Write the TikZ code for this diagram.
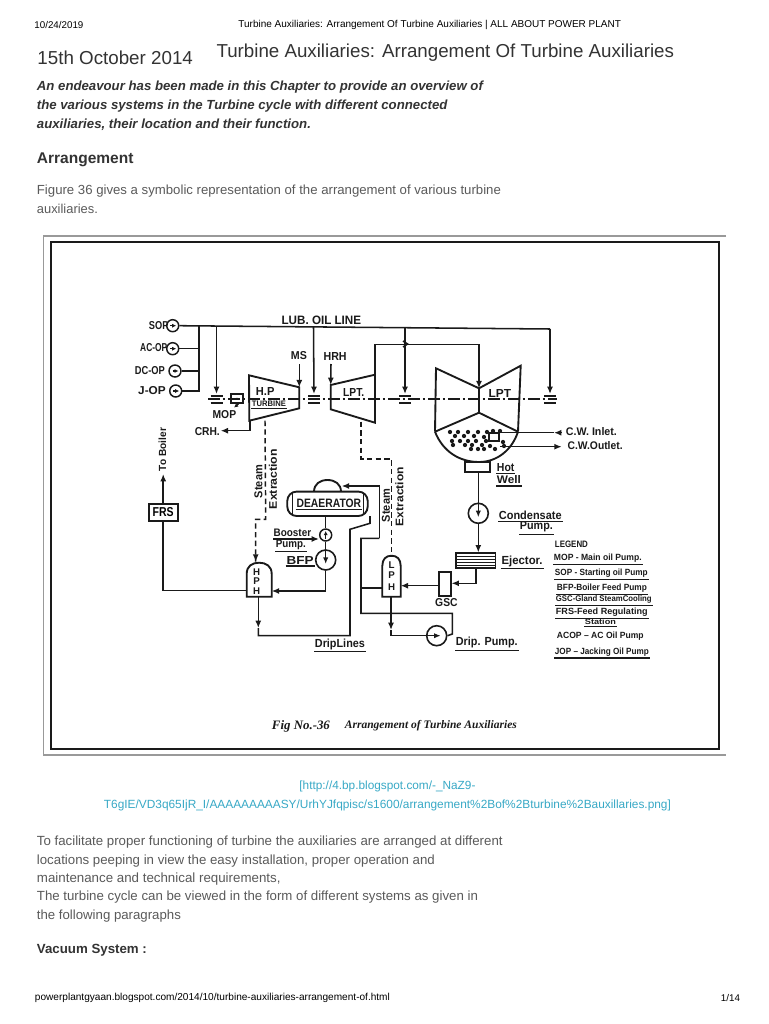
\documentclass[tikz,border=0pt]{standalone}
\usepackage{graphicx}
\usepackage{fontspec}
\setmainfont{Liberation Sans}
\newfontfamily\serifface{Liberation Serif}
\usetikzlibrary{arrows.meta}
\newlength\pxu
\setlength\pxu{0.75pt}
\definecolor{ink}{HTML}{1A1A1A}
\definecolor{bodygrey}{HTML}{5A5A5A}
\definecolor{headgrey}{HTML}{333333}
\definecolor{linkblue}{HTML}{38A9C6}
\newcommand\W[2]{\resizebox{#1\pxu}{!}{#2}}
\newcommand\lab[6][]{\node[txt,#1] (#2) at (#3,#4) {\W{#5}{#6}};}
\newcommand\labh[7][]{\node[txt,#1] (#2) at (#3,#4) {\resizebox{#5\pxu}{#6\pxu}{\bfseries #7}};}
\newcommand\ulabh[7][]{\labh[#1]{#2}{#3}{#4}{#5}{#6}{#7}\draw[ul] ([yshift=-0.8pt]#2.south west) -- ([yshift=-0.8pt]#2.south east);}
\newcommand\brg[2]{%
  \coordinate (#1) at (#2,399);
  \draw[bar] ([shift={(-6,-3)}]#1) -- ([shift={(6,-3)}]#1);
  \draw[bar] ([shift={(-6,4)}]#1) -- ([shift={(6,4)}]#1);
}
\tikzset{
  x=0.75pt,y=-0.75pt,
  txt/.style={anchor=west,inner sep=0.5pt,text=ink},
  pipe/.style={draw=ink,line width=1.15pt,line join=miter},
  flow/.style={pipe,-{Latex[length=5.5pt,width=4.5pt]}},
  steam/.style={draw=ink,line width=1.1pt,dash pattern=on 4pt off 2.5pt},
  ul/.style={draw=ink,line width=0.9pt},
  bar/.style={draw=ink,line width=1.9pt},
  shaft/.style={draw=ink,line width=1pt,dash pattern=on 9pt off 2pt on 2pt off 2pt},
  casing/.style={draw=ink,line width=1.4pt,line join=miter},
  pump/.style={circle,draw=ink,line width=1.2pt,inner sep=0pt,minimum size=15pt},
  smallpump/.style={circle,draw=ink,line width=1.1pt,inner sep=0pt,minimum size=9pt},
  box/.style={draw=ink,line width=1.3pt,inner sep=0pt,minimum width=#1},
  inner/.style={draw=ink,line width=1pt,-{Latex[length=5pt,width=4pt]}},
  innersmall/.style={draw=ink,line width=0.9pt,-{Latex[length=3pt,width=3pt]}},
  tube/.style={draw=ink,line width=0.9pt},
}
\begin{document}
\begin{tikzpicture}
\useasboundingbox[fill=white] (0,0) rectangle (768,1024);

% page text
\lab{hdate}{33.5}{25}{49}{\color{black}10/24/2019}
\lab{htitle}{237.5}{25}{382.5}{\color{black}Turbine Auxiliaries: Arrangement Of Turbine Auxiliaries | ALL ABOUT POWER PLANT}
\lab{pdate}{36.5}{58}{155.5}{\color{headgrey}15th October 2014}
\lab{ptitle}{215.6}{53}{457.5}{\color{headgrey}Turbine Auxiliaries: Arrangement Of Turbine Auxiliaries}
\lab{intro1}{36}{87.5}{446}{\bfseries\itshape\color{headgrey}An endeavour has been made in this Chapter to provide an overview of}
\lab{intro2}{36}{106}{410.5}{\bfseries\itshape\color{headgrey}the various systems in the Turbine cycle with different connected}
\lab{intro3}{36}{125}{274}{\bfseries\itshape\color{headgrey}auxiliaries, their location and their function.}
\lab{secA}{36}{159.5}{96.5}{\bfseries\color{headgrey}Arrangement}
\lab{fig1}{36}{191}{464}{\color{bodygrey}Figure 36 gives a symbolic representation of the arrangement of various turbine}
\lab{fig2}{36}{209}{61}{\color{bodygrey}auxiliaries.}
\lab{link1}{298.5}{786.5}{176}{\color{linkblue}[http://4.bp.blogspot.com/-\_NaZ9-}
\lab{link2}{103}{805.5}{567}{\color{linkblue}T6gIE/VD3q65IjR\_I/AAAAAAAAASY/UrhYJfqpisc/s1600/arrangement\%2Bof\%2Bturbine\%2Bauxillaries.png]}
\lab{p1}{36}{842.3}{465.7}{\color{bodygrey}To facilitate proper functioning of turbine the auxiliaries are arranged at different}
\lab{p2}{36}{860.7}{398}{\color{bodygrey}locations peeping in view the easy installation, proper operation and}
\lab{p3}{36}{879}{243.6}{\color{bodygrey}maintenance and technical requirements,}
\lab{p4}{36}{897.3}{441}{\color{bodygrey}The turbine cycle can be viewed in the form of different systems as given in}
\lab{p5}{36}{916}{144}{\color{bodygrey}the following paragraphs}
\lab{secV}{36}{950}{110}{\bfseries\color{headgrey}Vacuum System :}
\lab{foot}{34}{998}{355}{\color{black}powerplantgyaan.blogspot.com/2014/10/turbine-auxiliaries-arrangement-of.html}
\lab{pg}{720}{998}{19}{\color{black}1/14}

% image frames
\coordinate (go1) at (726,236);
\coordinate (go2) at (43.5,236);
\coordinate (go3) at (43.5,755);
\coordinate (go4) at (726,755);
\draw[draw=black!40,line width=0.8pt] (go1) -- (go2) -- (go3) -- (go4);
\coordinate (fr1) at (50.7,241.7);
\coordinate (fr2) at (719,749);
\draw[draw=ink,line width=1.8pt] (fr1) rectangle (fr2);

% shaft
\coordinate (sh1) at (208,399);
\coordinate (sh2) at (557,399);
\draw[shaft] (sh1) -- (sh2);

% bearings
\brg{b1}{216.5}
\brg{b2}{314}
\brg{b3}{405}
\brg{b4}{550}

% oil pumps
\node[smallpump] (sop) at (172.7,325.7) {};
\node[smallpump] (acop) at (172.7,348.7) {};
\node[smallpump] (dcop) at (175,371) {};
\node[smallpump] (jop) at (175.7,391) {};
\foreach \n in {sop,acop,dcop,jop}{
  \draw[innersmall] ([shift={(-2.5,0)}]\n.center) -- ([shift={(3.5,0)}]\n.center);
}
\labh{tsop}{148}{326}{19.5}{8}{SOP}
\labh{tacop}{139.3}{348}{27}{8}{AC-OP}
\labh{tdcop}{134}{371}{30}{8}{DC-OP}
\labh{tjop}{137.3}{391}{27.5}{8}{J-OP}

% lube oil
\coordinate (oilend) at (550,329);
\coordinate (coltop) at (199,326.4);
\coordinate (tap1) at (216.5,326.6);
\coordinate (tap2) at (313.5,327.2);
\coordinate (tap3) at (405,328);
\draw[pipe] (sop.east) -- (oilend);
\draw[flow] (oilend) -- ([shift={(0,-5)}]b4);
\draw[flow] (tap1) -- ([shift={(0,-5)}]b1);
\draw[flow] (tap2) -- ([shift={(0,-5)}]b2);
\draw[flow] (tap3) -- ([shift={(0,-5)}]b3);
\draw[pipe] (coltop) -- (coltop |- jop) -- (jop.east);
\draw[pipe] (acop.east) -- (acop -| coltop);
\draw[pipe] (dcop.east) -- (dcop -| coltop);
\labh{tlub}{280.7}{320}{79.5}{8.5}{LUB. OIL LINE}

% HP turbine
\coordinate (hp1) at (249,375.3);
\coordinate (hp2) at (299.3,387.3);
\coordinate (hp3) at (299.3,408.3);
\coordinate (hp4) at (249.3,420.7);
\draw[casing] (hp1) -- (hp2) -- (hp3) -- (hp4) -- cycle;
\labh{thp}{255}{391}{18.5}{8}{H.P}
\ulabh{tturb}{251}{403.8}{34}{5.5}{TURBINE}
\coordinate (msin) at (299.3,364);
\draw[flow] (msin) -- (hp2);
\labh{tms}{290}{356}{16}{8}{MS}
\coordinate (hrhin) at (331,364);
\labh{thrh}{322.7}{356}{23}{8}{HRH}

% IP turbine
\coordinate (ip1) at (330.7,385);
\coordinate (ip2) at (375,374.7);
\coordinate (ip3) at (375,422.7);
\coordinate (ip4) at (330.7,409.3);
\draw[casing] (ip1) -- (ip2) -- (ip3) -- (ip4) -- cycle;
\draw[flow] (hrhin) -- (ip1);
\labh{tip}{342.3}{392}{21}{8}{LPT.}

% crossover
\coordinate (xa) at (375,344.3);
\coordinate (lpin) at (479,388.3);
\draw[flow] (ip2) -- (xa) -- (xa -| lpin) -- (lpin);
\coordinate (hk1) at (403,341);
\coordinate (hk2) at (407.5,344);
\coordinate (hk3) at (403,347);
\draw[pipe] (hk1) -- (hk2) -- (hk3);

% MOP
\node[box=9.5pt,minimum height=6.8pt] (mopbox) at (237,398.5) {};
\fill[ink] (mopbox.center) circle (0.7pt);
\coordinate (mopa) at (238.5,404);
\coordinate (mopb) at (234,407.5);
\draw[innersmall] (mopa) -- (mopb);
\labh{tmop}{211.7}{415}{23.5}{8}{MOP}

% CRH
\coordinate (crh0) at (250,421);
\coordinate (crh1) at (250,430.7);
\node[txt,anchor=east] (tcrh) at (220.7,432) {\resizebox{25\pxu}{8\pxu}{\bfseries CRH.}};
\draw[flow] (crh0) -- (crh1) -- (tcrh.east |- crh1);

% LP turbine + condenser
\coordinate (lp1) at (436,368.3);
\coordinate (lp3) at (520.7,365.7);
\coordinate (lp4) at (518,431.7);
\coordinate (lp5) at (435,431.7);
\coordinate (lpv) at (479,412.7);
\coordinate (bowl) at (479,462);
\draw[casing] (lp5) -- (lp1) -- (lpin) -- (lp3) -- (lp4);
\draw[casing] (lpin) -- (lpv);
\draw[casing] (lp5) -- (lpv) -- (lp4);
\draw[casing] (lp5) .. controls (443,452) and (460,462) .. (bowl) .. controls (497,462) and (512,450) .. (lp4);
\labh{tlpt}{487.7}{393.7}{22.5}{8}{LPT}
\foreach \px/\py in {450/432,458/432,468/432,478/432,487/432,493/431,500/431,
  455/436,464/436,474/436,484/437,452/441,460/441,468/441,476/441,486/441,503/442,
  453/445,465/445,472/445,482/445,490/446,471/449,478/449,484/449,495/449,504/446}{
  \fill[ink] (\px,\py) circle (1.6pt);
}
\node[box=8pt,minimum height=5.5pt] (cwbox) at (494,437) {};
\coordinate (cwi) at (561.7,432.7);
\coordinate (cwa) at (554,432.7);
\coordinate (cwi0) at (490,432.7);
\coordinate (cwo) at (561.7,446.7);
\coordinate (cwo0) at (500,446.7);
\draw[flow] (cwi) -- (cwa);
\draw[pipe] (cwa) -- (cwi0);
\draw[flow] (cwo0) -- (cwo);
\labh{tcwi}{565}{431.7}{51}{8}{C.W. Inlet.}
\labh{tcwo}{566.7}{445.7}{55}{8}{C.W.Outlet.}

% hot well and condensate line
\node[box=18.7pt,minimum height=7.7pt] (hot) at (477.5,467.2) {};
\ulabh{thot}{496}{467.7}{17.5}{8}{Hot}
\ulabh{twell}{496}{480}{24}{8}{Well}
\node[pump] (cep) at (478.3,513.3) {};
\draw[pipe] (hot.south -| cep) -- (cep.north);
\draw[inner] (cep.north) -- ([yshift=-3pt]cep.center);
\ulabh{tcond}{498}{515}{62.7}{8.5}{Condensate}
\ulabh{tcp}{519}{527}{33}{8}{Pump.}

% ejector
\node[box=29.7pt,minimum height=11.2pt] (ej) at (475.8,560.8) {};
\foreach \ey in {556.3,559.3,562.3,565.3}{
  \coordinate (ejl) at (456,\ey);
  \coordinate (ejr) at (495.7,\ey);
  \draw[tube] (ejl) -- (ejr);
}
\draw[flow] (cep.south) -- (ej.north -| cep);
\ulabh{tej}{500.7}{561}{41}{8.5}{Ejector.}

% GSC
\node[box=8.8pt,minimum height=17.5pt] (gsc) at (444.8,584) {};
\coordinate (ejout) at (476,568.3);
\coordinate (ejturn) at (476,583.3);
\draw[flow] (ejout) -- (ejturn) -- (gsc.east |- ejturn);
\labh{tgsc}{434.3}{602.5}{22.4}{8}{GSC}

% LPH
\coordinate (lph1) at (382.3,596.7);
\coordinate (lph2) at (382.3,566);
\coordinate (lph3) at (391.5,555.7);
\coordinate (lph4) at (400.7,566);
\coordinate (lph5) at (400.7,596.7);
\draw[casing] (lph1) -- (lph2) .. controls (382.3,559) and (386,555.7) .. (lph3) .. controls (397,555.7) and (400.7,559) .. (lph4) -- (lph5) -- cycle;
\node[txt,anchor=center] (lphL) at (391.5,565) {\W{6}{\bfseries L}};
\node[txt,anchor=center] (lphP) at (391.5,575) {\W{6.5}{\bfseries P}};
\node[txt,anchor=center] (lphH) at (391.5,587) {\W{7}{\bfseries H}};
\coordinate (gscw) at (439,585.7);
\draw[flow] (gscw) -- (lph5 |- gscw);

% LP drain loop
\coordinate (lphw) at (382.3,588);
\coordinate (d1) at (361,538.3);
\coordinate (d2) at (361,613.3);
\coordinate (d3) at (452.3,613.3);
\coordinate (d4) at (452.3,634);
\coordinate (d5) at (379.3,538.3);
\coordinate (d6) at (379.3,486);
\coordinate (lphb) at (391,596.7);
\coordinate (lphc) at (391,635.7);
\coordinate (lpha) at (391,630);
\node[pump] (dp) at (436.7,635.7) {};
\draw[pipe] (lphw) -- (lphw -| d1);
\draw[pipe] (d5) -- (d1) -- (d2) -- (d3) -- (d4) -- (dp.east);
\draw[flow] (lphb) -- (lpha);
\draw[pipe] (lpha) -- (lphc) -- (dp.west);
\draw[inner] (dp.west) -- ([xshift=3pt]dp.center);
\ulabh{tdp}{455}{642.7}{61.7}{8.5}{Drip. Pump.}

% deaerator
\node[draw=ink,line width=1.4pt,rounded corners=7pt,minimum width=60.3pt,minimum height=18.3pt,inner sep=0pt] (dea) at (327.5,503.8) {};
\coordinate (dl1) at (292.3,493);
\coordinate (dl2) at (292.3,515);
\coordinate (dr1) at (363.3,493);
\coordinate (dr2) at (363.3,515);
\draw[pipe] (dl1) -- (dl2);
\draw[pipe] (dr1) -- (dr2);
\coordinate (dm1) at (314,491.7);
\coordinate (dm2) at (341,491.7);
\draw[casing] (dm1) .. controls (314,484) and (320,480) .. (327.5,480) .. controls (335,480) and (341,484) .. (dm2);
\ulabh{tdea}{295.7}{503.5}{64.5}{8.5}{DEAERATOR}
\coordinate (deain) at (341.7,486);
\draw[flow] (d5) -- (d6) -- (deain);

% pumps below deaerator
\node[smallpump] (bp) at (325.7,535) {};
\node[pump] (bfp) at (325.7,560) {};
\draw[pipe] (dea.south -| bp) -- (bp.north);
\draw[pipe] (bp.south) -- (bfp.north);
\draw[innersmall] ([shift={(0,4)}]bp.center) -- ([shift={(0,-4)}]bp.center);
\draw[inner] (bfp.north) -- ([yshift=-3pt]bfp.center);
\labh{tbp1}{272.7}{532.5}{37.5}{7.5}{Booster}
\ulabh{tbp2}{275}{544.5}{30}{7.5}{Pump.}
\coordinate (bpin) at (273,539);
\draw[flow] (bpin) -- (bp.west |- bpin);
\ulabh{tbfp}{285.7}{560}{27}{8}{BFP}

% HPH
\coordinate (hph1) at (246.7,596.7);
\coordinate (hph2) at (246.7,574);
\coordinate (hph3) at (259.2,562.7);
\coordinate (hph4) at (271.7,574);
\coordinate (hph5) at (271.7,596.7);
\draw[casing] (hph1) -- (hph2) .. controls (246.7,566) and (252,562.7) .. (hph3) .. controls (266,562.7) and (271.7,566) .. (hph4) -- (hph5) -- cycle;
\node[txt,anchor=center] (hphH) at (256.7,571.7) {\W{7}{\bfseries H}};
\node[txt,anchor=center] (hphP) at (256.7,581) {\W{6.5}{\bfseries P}};
\node[txt,anchor=center] (hphH2) at (256.7,590.7) {\W{7}{\bfseries H}};
\coordinate (bf1) at (325.7,591);
\coordinate (bf2) at (276.7,591);
\draw[pipe] (bfp.south) -- (bf1) -- (bf2);
\draw[flow] (bf2) -- (hph5 |- bf2);

% drip line from HPH
\coordinate (ha) at (258.3,596.7);
\coordinate (hb) at (258.3,628);
\coordinate (hc) at (258.3,635.7);
\coordinate (hd) at (350,635.7);
\coordinate (he) at (350,529.3);
\coordinate (hf) at (370,523.3);
\coordinate (hg) at (370,516);
\draw[flow] (ha) -- (hb);
\draw[pipe] (hb) -- (hc) -- (hd) -- (he) -- (hf) -- (hg);
\ulabh{tdrip}{314}{644}{50}{8.5}{DripLines}

% FRS
\node[box=21.7pt,minimum height=12.7pt] (frs) at (163.2,512.5) {\resizebox{21\pxu}{9\pxu}{\bfseries FRS}};
\coordinate (fl) at (246.7,590.7);
\draw[pipe] (fl) -- (fl -| frs) -- (frs.south);
\coordinate (boil) at (163.2,474);
\draw[flow] (frs.north) -- (boil);
\labh[rotate=90]{tboil}{162.3}{472}{43}{7.5}{To Boiler}

% extraction
\coordinate (x1) at (265,420.7);
\coordinate (x2) at (265.7,519.3);
\coordinate (x3) at (255.7,519.3);
\coordinate (x4) at (255.7,561.7);
\draw[steam] (x1) -- (x2) -- (x3) -- (x4);
\draw[flow] ([yshift=4pt]x4) -- (x4);
\labh[rotate=90]{ts1}{258.5}{499}{33}{8}{Steam}
\labh[rotate=90]{te1}{273}{510}{60}{8}{Extraction}
\coordinate (y1) at (361,421.7);
\coordinate (y2) at (361,459);
\coordinate (y3) at (391.7,459);
\draw[steam] (y1) -- (y2) -- (y3) -- (lph3 -| y3);
\labh[rotate=90]{ts2}{386}{523}{33}{8}{Steam}
\labh[rotate=90]{te2}{399.3}{527}{59}{8}{Extraction}

% legend
\labh{lg0}{554}{544}{33}{6.5}{LEGEND}
\ulabh{lg1}{553}{558}{87.7}{6.5}{MOP - Main oil Pump.}
\ulabh{lg2}{554}{573}{92.7}{6.5}{SOP - Starting oil Pump}
\ulabh{lg3}{556}{588}{90}{6.5}{BFP-Boiler Feed Pump}
\ulabh{lg4}{555}{599.5}{95.7}{6}{GSC-Gland SteamCooling}
\ulabh{lg5}{555}{612.5}{91.7}{6.5}{FRS-Feed Regulating}
\ulabh{lg5b}{584}{621.5}{31}{5.5}{Station}
\labh{lg6}{556}{636}{86.7}{6.5}{ACOP -- AC Oil Pump}
\ulabh{lg7}{554}{651.7}{94}{6.5}{JOP -- Jacking Oil Pump}

% caption
\lab{cap1}{271}{726}{58}{\serifface\itshape\bfseries Fig No.-36}
\lab{cap2}{344}{726}{172}{\serifface\itshape\bfseries Arrangement of Turbine Auxiliaries}
\end{tikzpicture}
\end{document}
